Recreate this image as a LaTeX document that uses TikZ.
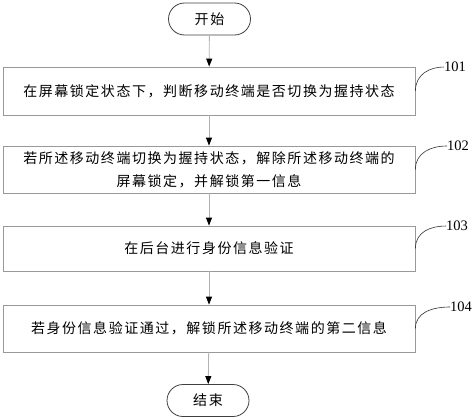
\documentclass[tikz,border=0pt]{standalone}
\usepackage{fontspec}
\newfontfamily\cjk[LetterSpace=11]{Noto Sans CJK SC}
\newfontfamily\numfont{Liberation Serif}
\usetikzlibrary{arrows.meta}

\begin{document}
\begin{tikzpicture}[x=1pt, y=-1pt,
        terminal/.style={rectangle, rounded corners=16pt, draw=black!75, thick, minimum width=82pt, minimum height=32pt, font=\cjk\fontsize{14}{17}\selectfont},
        process/.style={rectangle, draw=black!40, thick, minimum width=412pt, align=center, font=\cjk\fontsize{14}{23}\selectfont},
        arrow/.style={-{Triangle[width=6pt, length=8pt, color=black]}, thick, black!30},
        tag/.style={black!80, semithick},
        tagnum/.style={anchor=west, inner sep=0pt, font=\numfont\fontsize{14.5}{16}\selectfont}
    ]
        \useasboundingbox (0,0) rectangle (474,418);

        \node[terminal] (start) at (209.5, 19) {开始};
        \node[process, minimum height=48pt] (s1) at (209, 91) {在屏幕锁定状态下，判断移动终端是否切换为握持状态};
        \node[process, minimum height=47pt] (s2) at (209, 169.5) {若所述移动终端切换为握持状态，解除所述移动终端的\\屏幕锁定，并解锁第一信息};
        \node[process, minimum height=45pt] (s3) at (209, 248.5) {在后台进行身份信息验证};
        \node[process, minimum height=47pt] (s4) at (209, 328.5) {若身份信息验证通过，解锁所述移动终端的第二信息};
        \node[terminal] (end) at (208, 400.5) {结束};

        \node[tagnum] (n1) at (444, 67) {101};
        \node[tagnum] (n2) at (447, 146) {102};
        \node[tagnum] (n3) at (446, 226) {103};
        \node[tagnum] (n4) at (450, 307) {104};

        \draw[arrow] (start) -- (s1);
        \draw[arrow] (s1) -- (s2);
        \draw[arrow] (s2) -- (s3);
        \draw[arrow] (s3) -- (s4);
        \draw[arrow] (s4) -- (end);

        \draw[tag] (s1.east) .. controls +(0,-17) and +(-14,0) .. (n1.west);
        \draw[tag] (s2.east) .. controls +(0,-17) and +(-16,0) .. (n2.west);
        \draw[tag] (s3.east) .. controls +(0,-17) and +(-15,0) .. (n3.west);
        \draw[tag] (s4.east) .. controls +(0,-16) and +(-18,0) .. (n4.west);
    \end{tikzpicture}
\end{document}
